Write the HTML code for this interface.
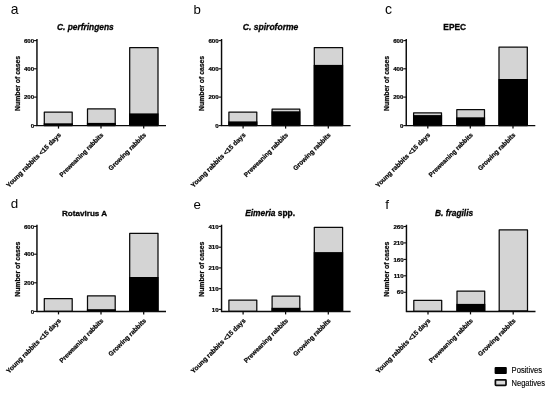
<!DOCTYPE html>
<html lang="en"><head><meta charset="utf-8"><title>Figure</title>
<style>html,body{margin:0;padding:0;background:#fff}svg{display:block}</style>
</head><body>
<svg width="550" height="394" viewBox="0 0 550 394" font-family="'Liberation Sans', Arial, sans-serif">
<rect width="550" height="394" fill="#fff"/>
<g transform="translate(0.0,0.0)">
<text x="10.8" y="14.0" font-size="13.9" fill="#050505">a</text>
<text x="57.0" y="30.0" font-size="8.4" font-weight="bold" fill="#050505" stroke="#050505" stroke-width="0.3" xml:space="preserve"><tspan font-style="italic">C. perfringens</tspan></text>
<rect x="44.30" y="112.00" width="27.90" height="13.60" fill="#d4d4d4" stroke="#0a0a0a" stroke-width="1.25" stroke-linejoin="round"/>
<rect x="43.7" y="123.3" width="29.1" height="2.3" fill="#000"/>
<rect x="87.50" y="108.90" width="27.70" height="16.70" fill="#d4d4d4" stroke="#0a0a0a" stroke-width="1.25" stroke-linejoin="round"/>
<rect x="86.9" y="122.9" width="28.9" height="2.7" fill="#000"/>
<rect x="129.70" y="47.60" width="28.30" height="78.00" fill="#d4d4d4" stroke="#0a0a0a" stroke-width="1.25" stroke-linejoin="round"/>
<rect x="129.1" y="113.4" width="29.5" height="12.2" fill="#000"/>
<path d="M36.95 39.0V126.20M36.35 125.6H166.0" stroke="#0a0a0a" stroke-width="1.45" fill="none"/>
<path d="M34.05 40.6H36.95" stroke="#0a0a0a" stroke-width="1.1"/>
<text x="34.05" y="42.8" font-size="6.1" font-weight="bold" text-anchor="end" fill="#050505" stroke="#050505" stroke-width="0.22">600</text>
<path d="M34.05 68.8H36.95" stroke="#0a0a0a" stroke-width="1.1"/>
<text x="34.05" y="71.0" font-size="6.1" font-weight="bold" text-anchor="end" fill="#050505" stroke="#050505" stroke-width="0.22">400</text>
<path d="M34.05 97.1H36.95" stroke="#0a0a0a" stroke-width="1.1"/>
<text x="34.05" y="99.3" font-size="6.1" font-weight="bold" text-anchor="end" fill="#050505" stroke="#050505" stroke-width="0.22">200</text>
<path d="M34.05 125.6H36.95" stroke="#0a0a0a" stroke-width="1.1"/>
<text x="34.05" y="127.8" font-size="6.1" font-weight="bold" text-anchor="end" fill="#050505" stroke="#050505" stroke-width="0.22">0</text>
<path d="M58.5 125.6V128.6" stroke="#0a0a0a" stroke-width="1.25"/>
<text transform="translate(61.4,135.4) rotate(-45)" font-size="6.65" font-weight="bold" text-anchor="end" fill="#050505" stroke="#050505" stroke-width="0.22">Young rabbits &lt;15 days</text>
<path d="M101.0 125.6V128.6" stroke="#0a0a0a" stroke-width="1.25"/>
<text transform="translate(103.9,135.4) rotate(-45)" font-size="6.45" font-weight="bold" text-anchor="end" fill="#050505" stroke="#050505" stroke-width="0.22">Preweaning rabbits</text>
<path d="M143.7 125.6V128.6" stroke="#0a0a0a" stroke-width="1.25"/>
<text transform="translate(146.6,135.4) rotate(-45)" font-size="6.55" font-weight="bold" text-anchor="end" fill="#050505" stroke="#050505" stroke-width="0.22">Growing rabbits</text>
<text transform="translate(20.2,83.4) rotate(-90)" font-size="6.85" font-weight="bold" text-anchor="middle" fill="#050505" stroke="#050505" stroke-width="0.22">Number of cases</text>
</g>
<g transform="translate(184.6,0.0)">
<text x="8.9" y="14.0" font-size="13.2" fill="#050505">b</text>
<text x="58.2" y="30.0" font-size="8.55" font-weight="bold" fill="#050505" stroke="#050505" stroke-width="0.3" xml:space="preserve"><tspan font-style="italic">C. spiroforme</tspan></text>
<rect x="44.30" y="112.10" width="27.90" height="13.50" fill="#d4d4d4" stroke="#0a0a0a" stroke-width="1.25" stroke-linejoin="round"/>
<rect x="43.7" y="121.4" width="29.1" height="4.2" fill="#000"/>
<rect x="87.50" y="109.20" width="27.70" height="16.40" fill="#d4d4d4" stroke="#0a0a0a" stroke-width="1.25" stroke-linejoin="round"/>
<rect x="86.9" y="111.3" width="28.9" height="14.3" fill="#000"/>
<rect x="129.70" y="47.60" width="28.30" height="78.00" fill="#d4d4d4" stroke="#0a0a0a" stroke-width="1.25" stroke-linejoin="round"/>
<rect x="129.1" y="64.9" width="29.5" height="60.7" fill="#000"/>
<path d="M36.95 39.0V126.20M36.35 125.6H166.0" stroke="#0a0a0a" stroke-width="1.45" fill="none"/>
<path d="M34.05 40.6H36.95" stroke="#0a0a0a" stroke-width="1.1"/>
<text x="34.05" y="42.8" font-size="6.1" font-weight="bold" text-anchor="end" fill="#050505" stroke="#050505" stroke-width="0.22">600</text>
<path d="M34.05 68.8H36.95" stroke="#0a0a0a" stroke-width="1.1"/>
<text x="34.05" y="71.0" font-size="6.1" font-weight="bold" text-anchor="end" fill="#050505" stroke="#050505" stroke-width="0.22">400</text>
<path d="M34.05 97.1H36.95" stroke="#0a0a0a" stroke-width="1.1"/>
<text x="34.05" y="99.3" font-size="6.1" font-weight="bold" text-anchor="end" fill="#050505" stroke="#050505" stroke-width="0.22">200</text>
<path d="M34.05 125.6H36.95" stroke="#0a0a0a" stroke-width="1.1"/>
<text x="34.05" y="127.8" font-size="6.1" font-weight="bold" text-anchor="end" fill="#050505" stroke="#050505" stroke-width="0.22">0</text>
<path d="M58.5 125.6V128.6" stroke="#0a0a0a" stroke-width="1.25"/>
<text transform="translate(61.4,135.4) rotate(-45)" font-size="6.65" font-weight="bold" text-anchor="end" fill="#050505" stroke="#050505" stroke-width="0.22">Young rabbits &lt;15 days</text>
<path d="M101.0 125.6V128.6" stroke="#0a0a0a" stroke-width="1.25"/>
<text transform="translate(103.9,135.4) rotate(-45)" font-size="6.45" font-weight="bold" text-anchor="end" fill="#050505" stroke="#050505" stroke-width="0.22">Preweaning rabbits</text>
<path d="M143.7 125.6V128.6" stroke="#0a0a0a" stroke-width="1.25"/>
<text transform="translate(146.6,135.4) rotate(-45)" font-size="6.55" font-weight="bold" text-anchor="end" fill="#050505" stroke="#050505" stroke-width="0.22">Growing rabbits</text>
<text transform="translate(19.8,83.4) rotate(-90)" font-size="6.85" font-weight="bold" text-anchor="middle" fill="#050505" stroke="#050505" stroke-width="0.22">Number of cases</text>
</g>
<g transform="translate(369.3,0.0)">
<text x="15.7" y="14.0" font-size="14.1" fill="#050505">c</text>
<text x="74.0" y="30.0" font-size="8.4" font-weight="bold" fill="#050505" stroke="#050505" stroke-width="0.3" xml:space="preserve"><tspan font-style="normal">EPEC</tspan></text>
<rect x="44.30" y="112.80" width="27.90" height="12.80" fill="#d4d4d4" stroke="#0a0a0a" stroke-width="1.25" stroke-linejoin="round"/>
<rect x="43.7" y="115.1" width="29.1" height="10.5" fill="#000"/>
<rect x="87.50" y="109.70" width="27.70" height="15.90" fill="#d4d4d4" stroke="#0a0a0a" stroke-width="1.25" stroke-linejoin="round"/>
<rect x="86.9" y="117.3" width="28.9" height="8.3" fill="#000"/>
<rect x="129.70" y="47.10" width="28.30" height="78.50" fill="#d4d4d4" stroke="#0a0a0a" stroke-width="1.25" stroke-linejoin="round"/>
<rect x="129.1" y="79.0" width="29.5" height="46.6" fill="#000"/>
<path d="M36.95 39.0V126.20M36.35 125.6H166.0" stroke="#0a0a0a" stroke-width="1.45" fill="none"/>
<path d="M34.05 40.6H36.95" stroke="#0a0a0a" stroke-width="1.1"/>
<text x="34.05" y="42.8" font-size="6.1" font-weight="bold" text-anchor="end" fill="#050505" stroke="#050505" stroke-width="0.22">600</text>
<path d="M34.05 68.8H36.95" stroke="#0a0a0a" stroke-width="1.1"/>
<text x="34.05" y="71.0" font-size="6.1" font-weight="bold" text-anchor="end" fill="#050505" stroke="#050505" stroke-width="0.22">400</text>
<path d="M34.05 97.1H36.95" stroke="#0a0a0a" stroke-width="1.1"/>
<text x="34.05" y="99.3" font-size="6.1" font-weight="bold" text-anchor="end" fill="#050505" stroke="#050505" stroke-width="0.22">200</text>
<path d="M34.05 125.6H36.95" stroke="#0a0a0a" stroke-width="1.1"/>
<text x="34.05" y="127.8" font-size="6.1" font-weight="bold" text-anchor="end" fill="#050505" stroke="#050505" stroke-width="0.22">0</text>
<path d="M58.5 125.6V128.6" stroke="#0a0a0a" stroke-width="1.25"/>
<text transform="translate(61.4,135.4) rotate(-45)" font-size="6.65" font-weight="bold" text-anchor="end" fill="#050505" stroke="#050505" stroke-width="0.22">Young rabbits &lt;15 days</text>
<path d="M101.0 125.6V128.6" stroke="#0a0a0a" stroke-width="1.25"/>
<text transform="translate(103.9,135.4) rotate(-45)" font-size="6.45" font-weight="bold" text-anchor="end" fill="#050505" stroke="#050505" stroke-width="0.22">Preweaning rabbits</text>
<path d="M143.7 125.6V128.6" stroke="#0a0a0a" stroke-width="1.25"/>
<text transform="translate(146.6,135.4) rotate(-45)" font-size="6.55" font-weight="bold" text-anchor="end" fill="#050505" stroke="#050505" stroke-width="0.22">Growing rabbits</text>
<text transform="translate(19.2,83.4) rotate(-90)" font-size="6.85" font-weight="bold" text-anchor="middle" fill="#050505" stroke="#050505" stroke-width="0.22">Number of cases</text>
</g>
<g transform="translate(0.0,185.8)">
<text x="10.8" y="22.3" font-size="13.4" fill="#050505">d</text>
<text x="62.0" y="30.0" font-size="8.1" font-weight="bold" fill="#050505" stroke="#050505" stroke-width="0.3" xml:space="preserve"><tspan font-style="normal">Rotavirus A</tspan></text>
<rect x="44.30" y="112.70" width="27.90" height="12.90" fill="#d4d4d4" stroke="#0a0a0a" stroke-width="1.25" stroke-linejoin="round"/>
<rect x="87.50" y="110.00" width="27.70" height="15.60" fill="#d4d4d4" stroke="#0a0a0a" stroke-width="1.25" stroke-linejoin="round"/>
<rect x="86.9" y="123.4" width="28.9" height="2.2" fill="#000"/>
<rect x="129.70" y="47.50" width="28.30" height="78.10" fill="#d4d4d4" stroke="#0a0a0a" stroke-width="1.25" stroke-linejoin="round"/>
<rect x="129.1" y="91.2" width="29.5" height="34.4" fill="#000"/>
<path d="M36.95 39.0V126.20M36.35 125.6H166.0" stroke="#0a0a0a" stroke-width="1.45" fill="none"/>
<path d="M34.05 40.6H36.95" stroke="#0a0a0a" stroke-width="1.1"/>
<text x="34.05" y="42.8" font-size="6.1" font-weight="bold" text-anchor="end" fill="#050505" stroke="#050505" stroke-width="0.22">600</text>
<path d="M34.05 68.4H36.95" stroke="#0a0a0a" stroke-width="1.1"/>
<text x="34.05" y="70.6" font-size="6.1" font-weight="bold" text-anchor="end" fill="#050505" stroke="#050505" stroke-width="0.22">400</text>
<path d="M34.05 97.0H36.95" stroke="#0a0a0a" stroke-width="1.1"/>
<text x="34.05" y="99.2" font-size="6.1" font-weight="bold" text-anchor="end" fill="#050505" stroke="#050505" stroke-width="0.22">200</text>
<path d="M34.05 125.6H36.95" stroke="#0a0a0a" stroke-width="1.1"/>
<text x="34.05" y="127.8" font-size="6.1" font-weight="bold" text-anchor="end" fill="#050505" stroke="#050505" stroke-width="0.22">0</text>
<path d="M58.5 125.6V128.6" stroke="#0a0a0a" stroke-width="1.25"/>
<text transform="translate(61.4,135.4) rotate(-45)" font-size="6.65" font-weight="bold" text-anchor="end" fill="#050505" stroke="#050505" stroke-width="0.22">Young rabbits &lt;15 days</text>
<path d="M101.0 125.6V128.6" stroke="#0a0a0a" stroke-width="1.25"/>
<text transform="translate(103.9,135.4) rotate(-45)" font-size="6.45" font-weight="bold" text-anchor="end" fill="#050505" stroke="#050505" stroke-width="0.22">Preweaning rabbits</text>
<path d="M143.7 125.6V128.6" stroke="#0a0a0a" stroke-width="1.25"/>
<text transform="translate(146.6,135.4) rotate(-45)" font-size="6.55" font-weight="bold" text-anchor="end" fill="#050505" stroke="#050505" stroke-width="0.22">Growing rabbits</text>
<text transform="translate(20.2,83.4) rotate(-90)" font-size="6.85" font-weight="bold" text-anchor="middle" fill="#050505" stroke="#050505" stroke-width="0.22">Number of cases</text>
</g>
<g transform="translate(184.6,185.8)">
<text x="8.8" y="22.75" font-size="13.3" fill="#050505">e</text>
<text x="60.6" y="30.0" font-size="8.4" font-weight="bold" fill="#050505" stroke="#050505" stroke-width="0.3" xml:space="preserve"><tspan font-style="italic">Eimeria</tspan><tspan font-style="normal"> spp.</tspan></text>
<rect x="44.30" y="114.20" width="27.90" height="11.40" fill="#d4d4d4" stroke="#0a0a0a" stroke-width="1.25" stroke-linejoin="round"/>
<rect x="87.50" y="110.30" width="27.70" height="15.30" fill="#d4d4d4" stroke="#0a0a0a" stroke-width="1.25" stroke-linejoin="round"/>
<rect x="86.9" y="122.0" width="28.9" height="3.6" fill="#000"/>
<rect x="129.70" y="41.50" width="28.30" height="84.10" fill="#d4d4d4" stroke="#0a0a0a" stroke-width="1.25" stroke-linejoin="round"/>
<rect x="129.1" y="66.3" width="29.5" height="59.3" fill="#000"/>
<path d="M36.95 39.0V126.20M36.35 125.6H166.0" stroke="#0a0a0a" stroke-width="1.45" fill="none"/>
<path d="M34.05 40.6H36.95" stroke="#0a0a0a" stroke-width="1.1"/>
<text x="34.05" y="42.8" font-size="6.1" font-weight="bold" text-anchor="end" fill="#050505" stroke="#050505" stroke-width="0.22">410</text>
<path d="M34.05 61.4H36.95" stroke="#0a0a0a" stroke-width="1.1"/>
<text x="34.05" y="63.6" font-size="6.1" font-weight="bold" text-anchor="end" fill="#050505" stroke="#050505" stroke-width="0.22">310</text>
<path d="M34.05 82.1H36.95" stroke="#0a0a0a" stroke-width="1.1"/>
<text x="34.05" y="84.3" font-size="6.1" font-weight="bold" text-anchor="end" fill="#050505" stroke="#050505" stroke-width="0.22">210</text>
<path d="M34.05 102.9H36.95" stroke="#0a0a0a" stroke-width="1.1"/>
<text x="34.05" y="105.1" font-size="6.1" font-weight="bold" text-anchor="end" fill="#050505" stroke="#050505" stroke-width="0.22">110</text>
<path d="M34.05 123.6H36.95" stroke="#0a0a0a" stroke-width="1.1"/>
<text x="34.05" y="125.8" font-size="6.1" font-weight="bold" text-anchor="end" fill="#050505" stroke="#050505" stroke-width="0.22">10</text>
<path d="M58.5 125.6V128.6" stroke="#0a0a0a" stroke-width="1.25"/>
<text transform="translate(61.4,135.4) rotate(-45)" font-size="6.65" font-weight="bold" text-anchor="end" fill="#050505" stroke="#050505" stroke-width="0.22">Young rabbits &lt;15 days</text>
<path d="M101.0 125.6V128.6" stroke="#0a0a0a" stroke-width="1.25"/>
<text transform="translate(103.9,135.4) rotate(-45)" font-size="6.45" font-weight="bold" text-anchor="end" fill="#050505" stroke="#050505" stroke-width="0.22">Preweaning rabbits</text>
<path d="M143.7 125.6V128.6" stroke="#0a0a0a" stroke-width="1.25"/>
<text transform="translate(146.6,135.4) rotate(-45)" font-size="6.55" font-weight="bold" text-anchor="end" fill="#050505" stroke="#050505" stroke-width="0.22">Growing rabbits</text>
<text transform="translate(19.8,83.4) rotate(-90)" font-size="6.85" font-weight="bold" text-anchor="middle" fill="#050505" stroke="#050505" stroke-width="0.22">Number of cases</text>
</g>
<g transform="translate(369.5,185.8)">
<text x="15.7" y="23.2" font-size="13.6" fill="#050505">f</text>
<text x="65.5" y="30.0" font-size="8.4" font-weight="bold" fill="#050505" stroke="#050505" stroke-width="0.3" xml:space="preserve"><tspan font-style="italic">B. fragilis</tspan></text>
<rect x="44.30" y="114.50" width="27.90" height="11.10" fill="#d4d4d4" stroke="#0a0a0a" stroke-width="1.25" stroke-linejoin="round"/>
<rect x="87.50" y="105.20" width="27.70" height="20.40" fill="#d4d4d4" stroke="#0a0a0a" stroke-width="1.25" stroke-linejoin="round"/>
<rect x="86.9" y="118.1" width="28.9" height="7.5" fill="#000"/>
<rect x="129.70" y="44.10" width="28.30" height="81.50" fill="#d4d4d4" stroke="#0a0a0a" stroke-width="1.25" stroke-linejoin="round"/>
<rect x="129.1" y="124.6" width="29.5" height="1.0" fill="#000"/>
<path d="M36.95 39.0V126.20M36.35 125.6H166.0" stroke="#0a0a0a" stroke-width="1.45" fill="none"/>
<path d="M34.05 40.7H36.95" stroke="#0a0a0a" stroke-width="1.1"/>
<text x="34.05" y="42.9" font-size="6.1" font-weight="bold" text-anchor="end" fill="#050505" stroke="#050505" stroke-width="0.22">260</text>
<path d="M34.05 57.1H36.95" stroke="#0a0a0a" stroke-width="1.1"/>
<text x="34.05" y="59.3" font-size="6.1" font-weight="bold" text-anchor="end" fill="#050505" stroke="#050505" stroke-width="0.22">210</text>
<path d="M34.05 73.6H36.95" stroke="#0a0a0a" stroke-width="1.1"/>
<text x="34.05" y="75.8" font-size="6.1" font-weight="bold" text-anchor="end" fill="#050505" stroke="#050505" stroke-width="0.22">160</text>
<path d="M34.05 90.0H36.95" stroke="#0a0a0a" stroke-width="1.1"/>
<text x="34.05" y="92.2" font-size="6.1" font-weight="bold" text-anchor="end" fill="#050505" stroke="#050505" stroke-width="0.22">110</text>
<path d="M34.05 106.5H36.95" stroke="#0a0a0a" stroke-width="1.1"/>
<text x="34.05" y="108.7" font-size="6.1" font-weight="bold" text-anchor="end" fill="#050505" stroke="#050505" stroke-width="0.22">60</text>
<path d="M58.5 125.6V128.6" stroke="#0a0a0a" stroke-width="1.25"/>
<text transform="translate(61.4,135.4) rotate(-45)" font-size="6.65" font-weight="bold" text-anchor="end" fill="#050505" stroke="#050505" stroke-width="0.22">Young rabbits &lt;15 days</text>
<path d="M101.0 125.6V128.6" stroke="#0a0a0a" stroke-width="1.25"/>
<text transform="translate(103.9,135.4) rotate(-45)" font-size="6.45" font-weight="bold" text-anchor="end" fill="#050505" stroke="#050505" stroke-width="0.22">Preweaning rabbits</text>
<path d="M143.7 125.6V128.6" stroke="#0a0a0a" stroke-width="1.25"/>
<text transform="translate(146.6,135.4) rotate(-45)" font-size="6.55" font-weight="bold" text-anchor="end" fill="#050505" stroke="#050505" stroke-width="0.22">Growing rabbits</text>
<text transform="translate(19.2,83.4) rotate(-90)" font-size="6.85" font-weight="bold" text-anchor="middle" fill="#050505" stroke="#050505" stroke-width="0.22">Number of cases</text>
</g>
<rect x="494.6" y="366.9" width="12.2" height="7.1" rx="1" fill="#000"/>
<rect x="495.4" y="379.8" width="10.6" height="5.6" rx="0.6" fill="#dcdcdc" stroke="#0a0a0a" stroke-width="1.7"/>
<text x="511.6" y="372.7" font-size="8.4" fill="#050505" stroke="#050505" stroke-width="0.15" textLength="30.4" lengthAdjust="spacingAndGlyphs">Positives</text>
<text x="511.6" y="385.6" font-size="8.4" fill="#050505" stroke="#050505" stroke-width="0.15" textLength="33.4" lengthAdjust="spacingAndGlyphs">Negatives</text>
</svg>
</body></html>
